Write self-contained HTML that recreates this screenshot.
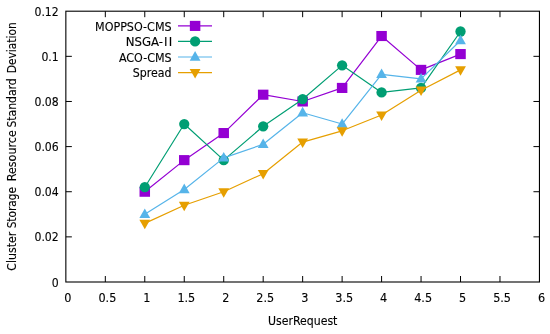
<!DOCTYPE html>
<html><head><meta charset="utf-8"><title>plot</title><style>html,body{margin:0;padding:0;background:#fff}svg{display:block}</style></head><body>
<svg width="550" height="334" viewBox="0 0 550 334" font-family='"DejaVu Sans Condensed","DejaVu Sans","Liberation Sans",sans-serif' font-size="12.5" fill="#000">
<style>text{stroke:#000;stroke-width:0.12px;paint-order:stroke}</style>
<rect width="550" height="334" fill="#fff"/>
<text x="67.95" y="302.2" text-anchor="middle">0</text>
<text x="107.42" y="302.2" text-anchor="middle">0.5</text>
<text x="146.88" y="302.2" text-anchor="middle">1</text>
<text x="186.35" y="302.2" text-anchor="middle">1.5</text>
<text x="225.82" y="302.2" text-anchor="middle">2</text>
<text x="265.28" y="302.2" text-anchor="middle">2.5</text>
<text x="304.75" y="302.2" text-anchor="middle">3</text>
<text x="344.22" y="302.2" text-anchor="middle">3.5</text>
<text x="383.68" y="302.2" text-anchor="middle">4</text>
<text x="423.15" y="302.2" text-anchor="middle">4.5</text>
<text x="462.62" y="302.2" text-anchor="middle">5</text>
<text x="502.08" y="302.2" text-anchor="middle">5.5</text>
<text x="541.55" y="302.2" text-anchor="middle">6</text>
<text transform="translate(58.7,286.50) scale(0.97,1)" text-anchor="end">0</text>
<text transform="translate(58.7,241.37) scale(0.97,1)" text-anchor="end">0.02</text>
<text transform="translate(58.7,196.23) scale(0.97,1)" text-anchor="end">0.04</text>
<text transform="translate(58.7,151.10) scale(0.97,1)" text-anchor="end">0.06</text>
<text transform="translate(58.7,105.97) scale(0.97,1)" text-anchor="end">0.08</text>
<text transform="translate(58.7,60.83) scale(0.97,1)" text-anchor="end">0.1</text>
<text transform="translate(58.7,15.70) scale(0.97,1)" text-anchor="end">0.12</text>
<path d="M105.32,282.0 v-6 M105.32,11.2 v6 M144.78,282.0 v-6 M144.78,11.2 v6 M184.25,282.0 v-6 M184.25,11.2 v6 M223.72,282.0 v-6 M223.72,11.2 v6 M263.18,282.0 v-6 M263.18,11.2 v6 M302.65,282.0 v-6 M302.65,11.2 v6 M342.12,282.0 v-6 M342.12,11.2 v6 M381.58,282.0 v-6 M381.58,11.2 v6 M421.05,282.0 v-6 M421.05,11.2 v6 M460.52,282.0 v-6 M460.52,11.2 v6 M499.98,282.0 v-6 M499.98,11.2 v6 M65.85,236.87 h6 M539.45,236.87 h-6 M65.85,191.73 h6 M539.45,191.73 h-6 M65.85,146.60 h6 M539.45,146.60 h-6 M65.85,101.47 h6 M539.45,101.47 h-6 M65.85,56.33 h6 M539.45,56.33 h-6" stroke="#000" stroke-width="1" fill="none"/>
<polyline points="144.78,191.73 184.25,160.14 223.72,133.06 263.18,94.70 302.65,101.47 342.12,87.93 381.58,36.02 421.05,69.87 460.52,54.08" fill="none" stroke="#9400d3" stroke-width="1.2" stroke-linejoin="round"/>
<rect x="139.53" y="186.68" width="10.5" height="10.1" fill="#9400d3"/>
<rect x="179.00" y="155.09" width="10.5" height="10.1" fill="#9400d3"/>
<rect x="218.47" y="128.01" width="10.5" height="10.1" fill="#9400d3"/>
<rect x="257.93" y="89.65" width="10.5" height="10.1" fill="#9400d3"/>
<rect x="297.40" y="96.42" width="10.5" height="10.1" fill="#9400d3"/>
<rect x="336.87" y="82.88" width="10.5" height="10.1" fill="#9400d3"/>
<rect x="376.33" y="30.97" width="10.5" height="10.1" fill="#9400d3"/>
<rect x="415.80" y="64.82" width="10.5" height="10.1" fill="#9400d3"/>
<rect x="455.27" y="49.03" width="10.5" height="10.1" fill="#9400d3"/>
<text transform="translate(171.6,30.50) scale(0.993,1)" text-anchor="end">MOPPSO-CMS</text>
<path d="M178,25.90 H212" stroke="#9400d3" stroke-width="1.2"/>
<rect x="189.85" y="20.85" width="10.5" height="10.1" fill="#9400d3"/>
<polyline points="144.78,187.22 184.25,124.03 223.72,160.14 263.18,126.29 302.65,99.21 342.12,65.36 381.58,92.44 421.05,87.93 460.52,31.51" fill="none" stroke="#009e73" stroke-width="1.2" stroke-linejoin="round"/>
<circle cx="144.78" cy="187.22" r="5.15" fill="#009e73"/>
<circle cx="184.25" cy="124.03" r="5.15" fill="#009e73"/>
<circle cx="223.72" cy="160.14" r="5.15" fill="#009e73"/>
<circle cx="263.18" cy="126.29" r="5.15" fill="#009e73"/>
<circle cx="302.65" cy="99.21" r="5.15" fill="#009e73"/>
<circle cx="342.12" cy="65.36" r="5.15" fill="#009e73"/>
<circle cx="381.58" cy="92.44" r="5.15" fill="#009e73"/>
<circle cx="421.05" cy="87.93" r="5.15" fill="#009e73"/>
<circle cx="460.52" cy="31.51" r="5.15" fill="#009e73"/>
<text transform="translate(172.3,46.05) scale(1.044,1)" text-anchor="end">NSGA-<tspan dx="0.8">I</tspan><tspan dx="1.4">I</tspan></text>
<path d="M178,41.45 H212" stroke="#009e73" stroke-width="1.2"/>
<circle cx="195.10" cy="41.45" r="5.15" fill="#009e73"/>
<polyline points="144.78,214.30 184.25,189.48 223.72,157.88 263.18,144.34 302.65,112.75 342.12,124.03 381.58,74.39 421.05,78.90 460.52,40.54" fill="none" stroke="#56b4e9" stroke-width="1.2" stroke-linejoin="round"/>
<polygon points="144.78,208.40 139.38,218.00 150.18,218.00" fill="#56b4e9"/>
<polygon points="184.25,183.58 178.85,193.18 189.65,193.18" fill="#56b4e9"/>
<polygon points="223.72,151.98 218.32,161.58 229.12,161.58" fill="#56b4e9"/>
<polygon points="263.18,138.44 257.78,148.04 268.58,148.04" fill="#56b4e9"/>
<polygon points="302.65,106.85 297.25,116.45 308.05,116.45" fill="#56b4e9"/>
<polygon points="342.12,118.13 336.72,127.73 347.52,127.73" fill="#56b4e9"/>
<polygon points="381.58,68.49 376.18,78.09 386.98,78.09" fill="#56b4e9"/>
<polygon points="421.05,73.00 415.65,82.60 426.45,82.60" fill="#56b4e9"/>
<polygon points="460.52,34.64 455.12,44.24 465.92,44.24" fill="#56b4e9"/>
<text transform="translate(171.6,61.60) scale(0.989,1)" text-anchor="end">ACO-CMS</text>
<path d="M178,57.00 H212" stroke="#56b4e9" stroke-width="1.2"/>
<polygon points="195.10,51.10 189.70,60.70 200.50,60.70" fill="#56b4e9"/>
<polyline points="144.78,223.33 184.25,205.27 223.72,191.73 263.18,173.68 302.65,142.09 342.12,130.80 381.58,115.01 421.05,90.18 460.52,69.87" fill="none" stroke="#e69f00" stroke-width="1.2" stroke-linejoin="round"/>
<polygon points="144.78,229.23 139.38,219.73 150.18,219.73" fill="#e69f00"/>
<polygon points="184.25,211.17 178.85,201.67 189.65,201.67" fill="#e69f00"/>
<polygon points="223.72,197.63 218.32,188.13 229.12,188.13" fill="#e69f00"/>
<polygon points="263.18,179.58 257.78,170.08 268.58,170.08" fill="#e69f00"/>
<polygon points="302.65,147.99 297.25,138.49 308.05,138.49" fill="#e69f00"/>
<polygon points="342.12,136.70 336.72,127.20 347.52,127.20" fill="#e69f00"/>
<polygon points="381.58,120.91 376.18,111.41 386.98,111.41" fill="#e69f00"/>
<polygon points="421.05,96.08 415.65,86.58 426.45,86.58" fill="#e69f00"/>
<polygon points="460.52,75.77 455.12,66.27 465.92,66.27" fill="#e69f00"/>
<text transform="translate(171.6,77.15) scale(0.98,1)" text-anchor="end">Spread</text>
<path d="M178,72.55 H212" stroke="#e69f00" stroke-width="1.2"/>
<polygon points="195.10,78.45 189.70,68.95 200.50,68.95" fill="#e69f00"/>
<rect x="65.85" y="11.2" width="473.6" height="270.8" fill="none" stroke="#000" stroke-width="1.1"/>
<text transform="translate(302.7,325.4) scale(0.975,1)" text-anchor="middle">UserRequest</text>
<text transform="translate(16.0,47.75) rotate(-90) scale(0.95,1)" text-anchor="middle">Deviation</text>
<text transform="translate(16.0,102.9) rotate(-90) scale(0.963,1)" text-anchor="middle">Standard</text>
<text transform="translate(16.0,155.7) rotate(-90) scale(0.9957,1)" text-anchor="middle">Resource</text>
<text transform="translate(16.0,207.7) rotate(-90) scale(0.9387,1)" text-anchor="middle">Storage</text>
<text transform="translate(16.0,251.25) rotate(-90) scale(0.973,1)" text-anchor="middle">Cluster</text>
</svg>
</body></html>
